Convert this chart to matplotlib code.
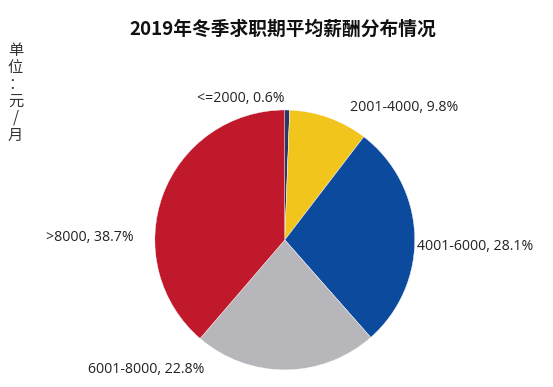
import matplotlib
matplotlib.use("Agg")
import matplotlib.pyplot as plt

plt.rcParams['font.family'] = ['Noto Sans CJK SC', 'DejaVu Sans']

# ── data ────────────────────────────────────────────────────────────────
categories = ['<=2000', '2001-4000', '4001-6000', '6001-8000', '>8000']
shares = [0.6, 9.8, 28.1, 22.8, 38.7]
colors = ['#27386b', '#f2c51c', '#0b4a9c', '#b7b6ba', '#c0192b']

# label anchors (axes data units, pie radius = 1) and alignment
label_pos = [(-0.34, 1.09), (0.50, 1.02), (1.02, -0.05), (-0.62, -1.00), (-1.16, 0.02)]
label_ha = ['center', 'left', 'left', 'right', 'right']

# ── figure ──────────────────────────────────────────────────────────────
fig = plt.figure(figsize=(5.53, 3.87), dpi=100, facecolor='white')
ax = fig.add_axes([0.280, 0.044, 0.470, 0.672])

ax.pie(shares, colors=colors, startangle=90, counterclock=False, radius=1,
       wedgeprops=dict(linewidth=0.3, edgecolor='white'))
ax.set_xlim(-1, 1)
ax.set_ylim(-1, 1)
ax.set_aspect('equal')

for cat, val, (x, y), ha in zip(categories, shares, label_pos, label_ha):
    ax.text(x, y, f"{cat}, {val}%", ha=ha, va='center', fontsize=10.2,
            family=['Open Sans', 'DejaVu Sans'], color='#222222', clip_on=False)

fig.text(0.512, 0.925, '2019年冬季求职期平均薪酬分布情况', ha='center', va='center',
         fontsize=13.5, fontweight='bold', color='#111111')

fig.text(0.028, 0.76, '单\n位\n：\n元\n/\n月', ha='center', va='center',
         fontsize=11, color='#333333', linespacing=1.0)

fig.savefig('out.png', dpi=100, facecolor='white')
